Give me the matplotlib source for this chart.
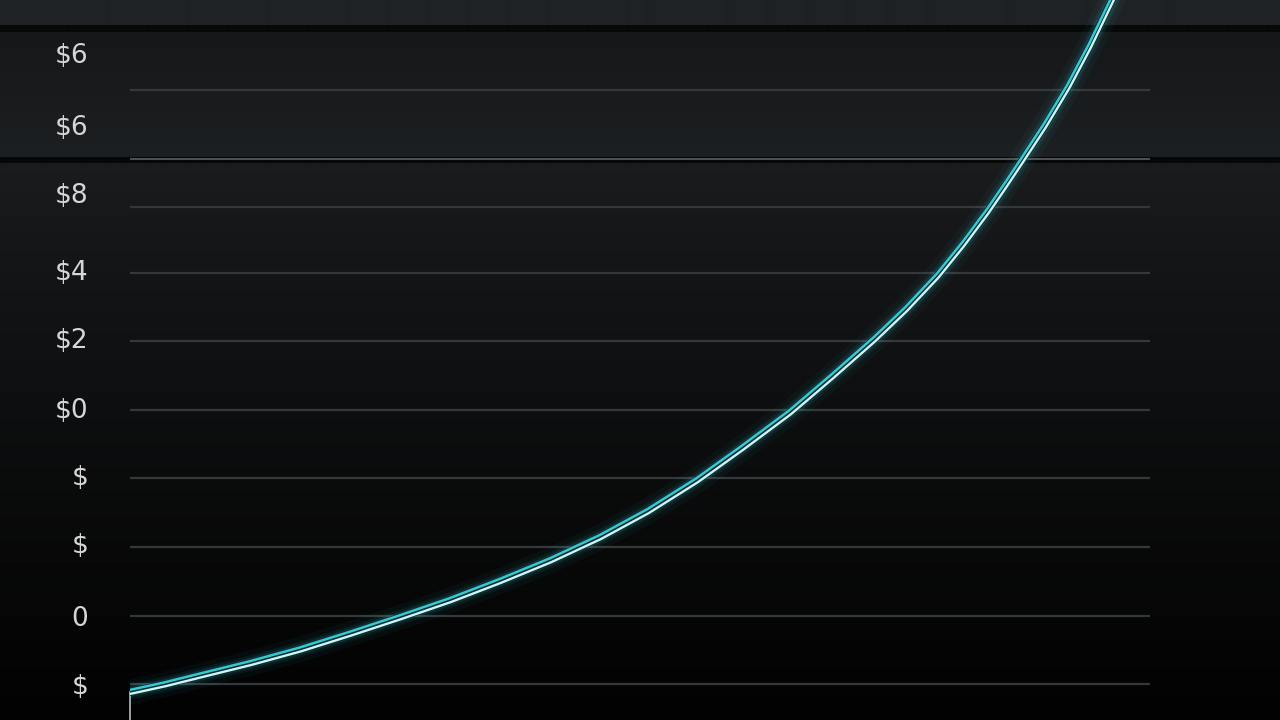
import numpy as np
import matplotlib
matplotlib.use("Agg")
import matplotlib.pyplot as plt
from matplotlib.transforms import offset_copy

# ---- data ----
x_vals = [0.00, 0.34, 0.69, 1.18, 1.67, 2.16, 2.65, 3.14, 3.63, 4.12, 4.61, 5.08, 5.56, 6.01,
          6.47, 6.88, 7.30, 7.61, 7.92, 8.17, 8.41, 8.58, 8.75, 8.97, 9.20, 9.41, 9.64, 9.75]
y_vals = [-0.12, -0.01, 0.12, 0.30, 0.50, 0.73, 0.97, 1.22, 1.50, 1.80, 2.14, 2.52, 2.97, 3.45,
          3.96, 4.48, 5.03, 5.47, 5.96, 6.42, 6.90, 7.27, 7.65, 8.15, 8.72, 9.31, 10.02, 10.37]
tick_positions = [0.0, 0.99, 2.06, 3.05, 4.03, 5.05, 6.04, 7.17, 8.15, 9.21]
tick_labels = ["$", "0", "$", "$", "$0", "$2", "$4", "$8", "$6", "$6"]
grid_levels = [0.0, 0.99, 2.0, 3.0, 4.0, 5.0, 5.99, 6.96, 8.66]
band_level = 7.66

W, H = 1280, 720
fig = plt.figure(figsize=(12.8, 7.2), dpi=100)
fig.patch.set_facecolor("#0c0d0e")

# background gradient
bg = fig.add_axes([0, 0, 1, 1])
bg.set_axis_off()
rows = np.zeros((H, 1, 3))
def hexc(h):
    h = h.lstrip("#")
    return np.array([int(h[i:i+2], 16) / 255 for i in (0, 2, 4)])
for r in range(H):
    if r < 25:
        c = hexc("#1f2224")
    elif r < 32:
        c = hexc("#070808")
    elif r < 157:
        t = (r - 32) / 125
        c = hexc("#151719") * (1 - t) + hexc("#1d2022") * t
    elif r < 163:
        c = hexc("#060707")
    else:
        t = (r - 163) / (H - 163)
        t = t ** 0.8
        c = hexc("#1a1c1e") * (1 - t) + hexc("#020202") * t
    rows[r, 0] = c
bg.imshow(rows, aspect="auto", extent=[0, 1, 0, 1], interpolation="bilinear")
bg.set_xlim(0, 1); bg.set_ylim(0, 1)

ax = fig.add_axes([130 / W, 0, 1020 / W, 1])
ax.patch.set_alpha(0)
ax.set_xlim(0, 10)
ax.set_ylim(-0.53, -0.53 + H / 68.5)
for s in ax.spines.values():
    s.set_visible(False)
ax.set_xticks([])

for g in grid_levels:
    ax.axhline(g, color="#35383a", lw=1.6, zorder=1)
ax.axhline(band_level, color="#55585a", lw=1.3, zorder=1)

# left spine fragment
ax.plot([0, 0], [-0.6, y_vals[0]], color="#b8bcbd", lw=1.2, zorder=2, clip_on=False)

# glowing double curve
for lw, a in [(18, 0.04), (11, 0.07), (7.5, 0.12)]:
    ax.plot(x_vals, y_vals, color="#35d8ea", lw=lw, alpha=a,
            solid_capstyle="round", solid_joinstyle="round", zorder=3)
ax.plot(x_vals, y_vals, color="#0b2a2f", lw=5.5, solid_joinstyle="round", zorder=4)
up = offset_copy(ax.transData, fig=fig, x=-0.7, y=1.3, units="points")
dn = offset_copy(ax.transData, fig=fig, x=0.7, y=-1.3, units="points")
ax.plot(x_vals, y_vals, color="#35c9d3", lw=1.8, solid_joinstyle="round", transform=up, zorder=5)
ax.plot(x_vals, y_vals, color="#cdf6f6", lw=1.7, solid_joinstyle="round", transform=dn, zorder=5)

ax.set_yticks(tick_positions)
ax.set_yticklabels(tick_labels)
ax.tick_params(axis="y", length=0, pad=30, labelsize=19, labelcolor="#d6d6d6")
for lab in ax.get_yticklabels():
    lab.set_fontfamily("DejaVu Sans")

fig.savefig("out.png", dpi=100, facecolor=fig.get_facecolor())
